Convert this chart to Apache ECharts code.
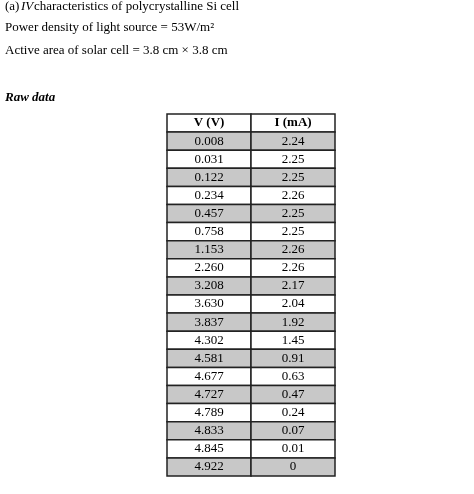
<!DOCTYPE html>
<html><head><meta charset="utf-8">
<script src="https://cdn.jsdelivr.net/npm/echarts@6/dist/echarts.min.js"></script>
<style>html,body{margin:0;background:#fff}#c{width:474px;height:494px}</style>
</head><body><div id="c"></div>
<script>
const headers = ['V (V)', 'I (mA)'];
const voltage = ['0.008','0.031','0.122','0.234','0.457','0.758','1.153','2.260','3.208','3.630','3.837','4.302','4.581','4.677','4.727','4.789','4.833','4.845','4.922'];
const current = ['2.24','2.25','2.25','2.26','2.25','2.25','2.26','2.26','2.17','2.04','1.92','1.45','0.91','0.63','0.47','0.24','0.07','0.01','0'];

const rows = ['h'].concat(voltage.map((_, i) => 'r' + i));
const cells = [];
headers.forEach((h, c) => cells.push([c, 0, h, 1]));
voltage.forEach((v, i) => { cells.push([0, i + 1, v, 0]); cells.push([1, i + 1, current[i], 0]); });

const font = '"Liberation Serif", "DejaVu Serif", serif';
const chart = echarts.init(document.getElementById('c'));
chart.setOption({
  animation: false,
  grid: { left: 167, top: 114, width: 168, height: 362 },
  xAxis: { type: 'value', min: 0, max: 2, show: false },
  yAxis: { type: 'category', data: rows, inverse: true, show: false },
  graphic: [
    { type: 'text', left: 5, top: 0, style: { text: '(a) ', font: '13px ' + font, fill: '#000' } },
    { type: 'text', left: 21, top: 0, style: { text: 'IV', font: 'italic 13px ' + font, fill: '#000' } },
    { type: 'text', left: 34, top: 0, style: { text: 'characteristics of polycrystalline Si cell', font: '13px ' + font, fill: '#000' } },
    { type: 'text', left: 5, top: 21, style: { text: 'Power density of light source = 53W/m²', font: '13px ' + font, fill: '#000' } },
    { type: 'text', left: 5, top: 44, style: { text: 'Active area of solar cell = 3.8 cm × 3.8 cm', font: '13px ' + font, fill: '#000' } },
    { type: 'text', left: 5, top: 91, style: { text: 'Raw data', font: 'italic bold 13px ' + font, fill: '#000' } }
  ],
  series: [{
    type: 'custom',
    data: cells,
    encode: { x: 0, y: 1 },
    renderItem: function (params, api) {
      const col = api.value(0), row = api.value(1), hdr = api.value(3);
      const p0 = api.coord([col, row]);
      const p1 = api.coord([col + 1, row]);
      const h = api.size([0, 1])[1];
      const gray = !hdr && (row - 1) % 2 === 0;
      return {
        type: 'group',
        children: [
          { type: 'rect', shape: { x: p0[0], y: p0[1] - h / 2, width: p1[0] - p0[0], height: h },
            style: { fill: gray ? '#c8c8c8' : '#fff', stroke: '#222', lineWidth: 1.5 } },
          { type: 'text', style: { text: cells[params.dataIndex][2], x: (p0[0] + p1[0]) / 2, y: p0[1],
            align: 'center', verticalAlign: 'middle', font: (hdr ? 'bold ' : '') + '13px ' + font, fill: '#000' } }
        ]
      };
    }
  }]
});
</script></body></html>
